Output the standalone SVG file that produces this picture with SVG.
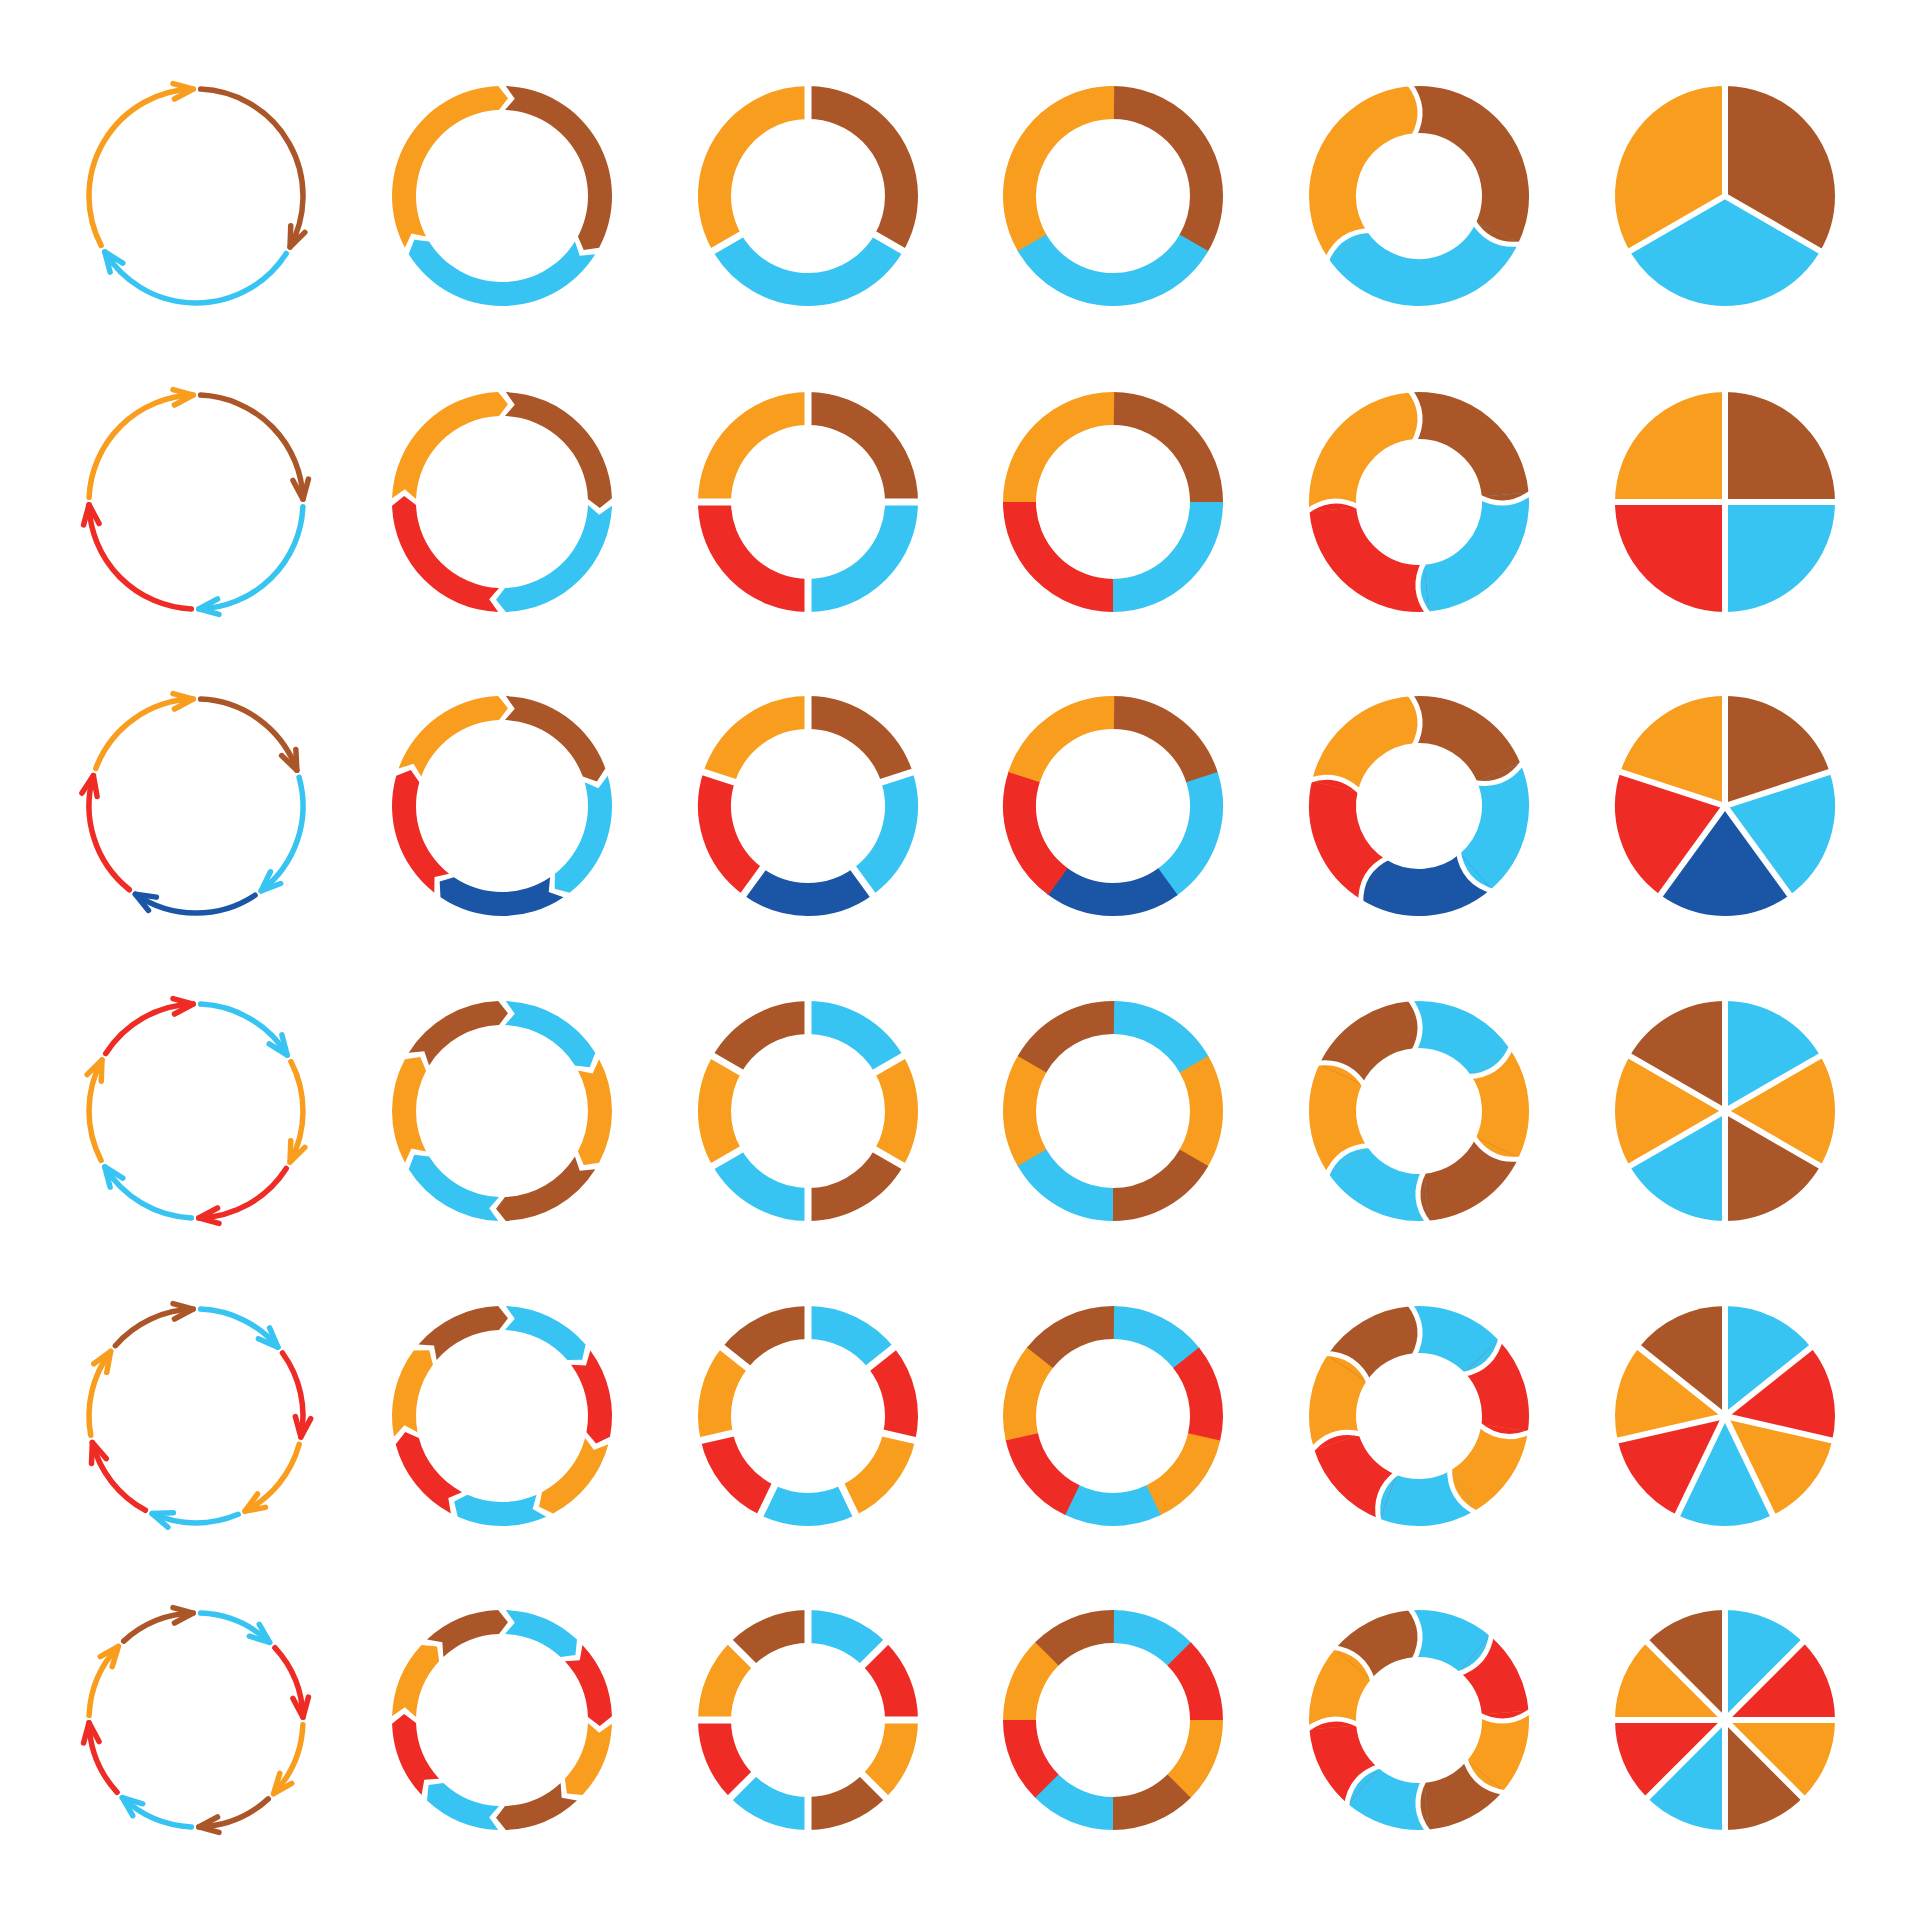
<svg xmlns="http://www.w3.org/2000/svg" xmlns:xlink="http://www.w3.org/1999/xlink" width="1920" height="1920" viewBox="0 0 1920 1920">
<style>
.br{color:#AB5628}.lb{color:#38C4F2}.rd{color:#EE2B24}.or{color:#F89D1D}.db{color:#1B55A5}
.f{fill:currentColor}
.k{fill:none;stroke:currentColor;stroke-width:5.5;stroke-linecap:round;stroke-linejoin:round}
</style>
<defs>
<path id="chev" d="M-20,-113L0,-107L-19,-97.5"/>
<g id="k3"><path d="M4.667,-106.898A107,107 0 0 1 94.033,51.056"/><use href="#chev" transform="rotate(118.5)"/></g>
<g id="k4"><path d="M4.667,-106.898A107,107 0 0 1 106.963,-2.801"/><use href="#chev" transform="rotate(88.5)"/></g>
<g id="k5"><path d="M4.667,-106.898A107,107 0 0 1 100.863,-35.717"/><use href="#chev" transform="rotate(70.5)"/></g>
<g id="k6"><path d="M4.667,-106.898A107,107 0 0 1 91.232,-55.907"/><use href="#chev" transform="rotate(58.5)"/></g>
<g id="k7"><path d="M4.667,-106.898A107,107 0 0 1 81.881,-68.880"/><use href="#chev" transform="rotate(49.9286)"/></g>
<g id="k8"><path d="M4.667,-106.898A107,107 0 0 1 73.654,-77.615"/><use href="#chev" transform="rotate(43.5)"/></g>
<path id="a3" d="M3.839,-109.933A110,110 0 0 1 97.124,51.642L81.721,54.090L75.934,40.375A86,86 0 0 0 3.001,-85.948L12.792,-97.162Z"/>
<path id="a4" d="M3.839,-109.933A110,110 0 0 1 109.933,-3.839L97.817,5.983L85.948,-3.001A86,86 0 0 0 3.001,-85.948L12.792,-97.162Z"/>
<path id="a5" d="M3.839,-109.933A110,110 0 0 1 103.366,-37.622L94.879,-24.537L80.814,-29.414A86,86 0 0 0 3.001,-85.948L12.792,-97.162Z"/>
<path id="a6" d="M3.839,-109.933A110,110 0 0 1 93.285,-58.291L87.704,-43.727L72.932,-45.573A86,86 0 0 0 3.001,-85.948L12.792,-97.162Z"/>
<path id="a7" d="M3.839,-109.933A110,110 0 0 1 83.556,-71.544L80.207,-56.311L65.325,-55.934A86,86 0 0 0 3.001,-85.948L12.792,-97.162Z"/>
<path id="a8" d="M3.839,-109.933A110,110 0 0 1 75.020,-80.449L73.398,-64.937L58.652,-62.896A86,86 0 0 0 3.001,-85.948L12.792,-97.162Z"/>
<circle id="d3" r="93.5" fill="none" stroke="currentColor" stroke-width="33" stroke-dasharray="196.6 700"/>
<circle id="d4" r="93.5" fill="none" stroke="currentColor" stroke-width="33" stroke-dasharray="147.7 700"/>
<circle id="d5" r="93.5" fill="none" stroke="currentColor" stroke-width="33" stroke-dasharray="118.3 700"/>
<circle id="d6" r="93.5" fill="none" stroke="currentColor" stroke-width="33" stroke-dasharray="98.7 700"/>
<circle id="d7" r="93.5" fill="none" stroke="currentColor" stroke-width="33" stroke-dasharray="84.7 700"/>
<circle id="d8" r="93.5" fill="none" stroke="currentColor" stroke-width="33" stroke-dasharray="74.2 700"/>
<circle id="e3" r="86.5" fill="none" stroke="currentColor" stroke-width="47" stroke-dasharray="182 700"/>
<circle id="e4" r="86.5" fill="none" stroke="currentColor" stroke-width="47" stroke-dasharray="136.7 700"/>
<circle id="e5" r="86.5" fill="none" stroke="currentColor" stroke-width="47" stroke-dasharray="109.5 700"/>
<circle id="e6" r="86.5" fill="none" stroke="currentColor" stroke-width="47" stroke-dasharray="91.4 700"/>
<circle id="e7" r="86.5" fill="none" stroke="currentColor" stroke-width="47" stroke-dasharray="78.4 700"/>
<circle id="e8" r="86.5" fill="none" stroke="currentColor" stroke-width="47" stroke-dasharray="68.7 700"/>
<circle id="p3" r="55" fill="none" stroke="currentColor" stroke-width="110" stroke-dasharray="116 700"/>
<circle id="p4" r="55" fill="none" stroke="currentColor" stroke-width="110" stroke-dasharray="87.2 700"/>
<circle id="p5" r="55" fill="none" stroke="currentColor" stroke-width="110" stroke-dasharray="69.9 700"/>
<circle id="p6" r="55" fill="none" stroke="currentColor" stroke-width="110" stroke-dasharray="58.4 700"/>
<circle id="p7" r="55" fill="none" stroke="currentColor" stroke-width="110" stroke-dasharray="50.2 700"/>
<circle id="p8" r="55" fill="none" stroke="currentColor" stroke-width="110" stroke-dasharray="44 700"/>
<line id="g3" x1="0" y1="-72" x2="0" y2="-115" stroke="#fff" stroke-width="7"/>
<line id="g6" x1="0" y1="0" x2="0" y2="-115" stroke="#fff" stroke-width="6"/>
<path id="bz" d="M0,-112Q17,-86.5 0,-61Z" fill="currentColor"/>
<path id="sz" d="M0,-113Q17,-86.5 0,-60" fill="none" stroke="#fff" stroke-width="5"/>
</defs>
<rect width="1920" height="1920" fill="#fff"/>

<!-- Row 1 : 3 segments -->
<g id="r1c1" transform="translate(196,196)">
<use href="#k3" class="k br"/><use href="#k3" class="k lb" transform="rotate(120)"/><use href="#k3" class="k or" transform="rotate(240)"/>
</g>
<g id="r1c2" transform="translate(502,196)">
<use href="#a3" class="f br"/><use href="#a3" class="f lb" transform="rotate(120)"/><use href="#a3" class="f or" transform="rotate(240)"/>
</g>
<g id="r1c3" transform="translate(808,196)">
<use href="#d3" class="br" transform="rotate(-90)"/><use href="#d3" class="lb" transform="rotate(30)"/><use href="#d3" class="or" transform="rotate(150)"/>
<use href="#g3"/><use href="#g3" transform="rotate(120)"/><use href="#g3" transform="rotate(240)"/>
</g>
<g id="r1c4" transform="translate(1113,196)">
<use href="#d3" class="br" transform="rotate(-90)"/><use href="#d3" class="lb" transform="rotate(30)"/><use href="#d3" class="or" transform="rotate(150)"/>
</g>
<g id="r1c5" transform="translate(1419,196)">
<use href="#e3" class="br" transform="rotate(-95)"/><use href="#e3" class="lb" transform="rotate(25)"/><use href="#e3" class="or" transform="rotate(145)"/>
<use href="#bz" class="or" transform="rotate(-5)"/><use href="#bz" class="br" transform="rotate(115)"/><use href="#bz" class="lb" transform="rotate(235)"/>
<use href="#sz" transform="rotate(-5)"/><use href="#sz" transform="rotate(115)"/><use href="#sz" transform="rotate(235)"/>
</g>
<g id="r1c6" transform="translate(1725,196)">
<use href="#p3" class="br" transform="rotate(-90)"/><use href="#p3" class="lb" transform="rotate(30)"/><use href="#p3" class="or" transform="rotate(150)"/>
<use href="#g6"/><use href="#g6" transform="rotate(120)"/><use href="#g6" transform="rotate(240)"/>
</g>

<!-- Row 2 : 4 segments -->
<g id="r2c1" transform="translate(196,502)">
<use href="#k4" class="k br"/><use href="#k4" class="k lb" transform="rotate(90)"/><use href="#k4" class="k rd" transform="rotate(180)"/><use href="#k4" class="k or" transform="rotate(270)"/>
</g>
<g id="r2c2" transform="translate(502,502)">
<use href="#a4" class="f br"/><use href="#a4" class="f lb" transform="rotate(90)"/><use href="#a4" class="f rd" transform="rotate(180)"/><use href="#a4" class="f or" transform="rotate(270)"/>
</g>
<g id="r2c3" transform="translate(808,502)">
<use href="#d4" class="br" transform="rotate(-90)"/><use href="#d4" class="lb" transform="rotate(0)"/><use href="#d4" class="rd" transform="rotate(90)"/><use href="#d4" class="or" transform="rotate(180)"/>
<use href="#g3"/><use href="#g3" transform="rotate(90)"/><use href="#g3" transform="rotate(180)"/><use href="#g3" transform="rotate(270)"/>
</g>
<g id="r2c4" transform="translate(1113,502)">
<use href="#d4" class="br" transform="rotate(-90)"/><use href="#d4" class="lb" transform="rotate(0)"/><use href="#d4" class="rd" transform="rotate(90)"/><use href="#d4" class="or" transform="rotate(180)"/>
</g>
<g id="r2c5" transform="translate(1419,502)">
<use href="#e4" class="br" transform="rotate(-95)"/><use href="#e4" class="lb" transform="rotate(-5)"/><use href="#e4" class="rd" transform="rotate(85)"/><use href="#e4" class="or" transform="rotate(175)"/>
<use href="#bz" class="or" transform="rotate(-5)"/><use href="#bz" class="br" transform="rotate(85)"/><use href="#bz" class="lb" transform="rotate(175)"/><use href="#bz" class="rd" transform="rotate(265)"/>
<use href="#sz" transform="rotate(-5)"/><use href="#sz" transform="rotate(85)"/><use href="#sz" transform="rotate(175)"/><use href="#sz" transform="rotate(265)"/>
</g>
<g id="r2c6" transform="translate(1725,502)">
<use href="#p4" class="br" transform="rotate(-90)"/><use href="#p4" class="lb" transform="rotate(0)"/><use href="#p4" class="rd" transform="rotate(90)"/><use href="#p4" class="or" transform="rotate(180)"/>
<use href="#g6"/><use href="#g6" transform="rotate(90)"/><use href="#g6" transform="rotate(180)"/><use href="#g6" transform="rotate(270)"/>
</g>

<!-- Row 3 : 5 segments -->
<g id="r3c1" transform="translate(196,806)">
<use href="#k5" class="k br"/><use href="#k5" class="k lb" transform="rotate(72)"/><use href="#k5" class="k db" transform="rotate(144)"/><use href="#k5" class="k rd" transform="rotate(216)"/><use href="#k5" class="k or" transform="rotate(288)"/>
</g>
<g id="r3c2" transform="translate(502,806)">
<use href="#a5" class="f br"/><use href="#a5" class="f lb" transform="rotate(72)"/><use href="#a5" class="f db" transform="rotate(144)"/><use href="#a5" class="f rd" transform="rotate(216)"/><use href="#a5" class="f or" transform="rotate(288)"/>
</g>
<g id="r3c3" transform="translate(808,806)">
<use href="#d5" class="br" transform="rotate(-90)"/><use href="#d5" class="lb" transform="rotate(-18)"/><use href="#d5" class="db" transform="rotate(54)"/><use href="#d5" class="rd" transform="rotate(126)"/><use href="#d5" class="or" transform="rotate(198)"/>
<use href="#g3"/><use href="#g3" transform="rotate(72)"/><use href="#g3" transform="rotate(144)"/><use href="#g3" transform="rotate(216)"/><use href="#g3" transform="rotate(288)"/>
</g>
<g id="r3c4" transform="translate(1113,806)">
<use href="#d5" class="br" transform="rotate(-90)"/><use href="#d5" class="lb" transform="rotate(-18)"/><use href="#d5" class="db" transform="rotate(54)"/><use href="#d5" class="rd" transform="rotate(126)"/><use href="#d5" class="or" transform="rotate(198)"/>
</g>
<g id="r3c5" transform="translate(1419,806)">
<use href="#e5" class="br" transform="rotate(-95)"/><use href="#e5" class="lb" transform="rotate(-23)"/><use href="#e5" class="db" transform="rotate(49)"/><use href="#e5" class="rd" transform="rotate(121)"/><use href="#e5" class="or" transform="rotate(193)"/>
<use href="#bz" class="or" transform="rotate(-5)"/><use href="#bz" class="br" transform="rotate(67)"/><use href="#bz" class="lb" transform="rotate(139)"/><use href="#bz" class="db" transform="rotate(211)"/><use href="#bz" class="rd" transform="rotate(283)"/>
<use href="#sz" transform="rotate(-5)"/><use href="#sz" transform="rotate(67)"/><use href="#sz" transform="rotate(139)"/><use href="#sz" transform="rotate(211)"/><use href="#sz" transform="rotate(283)"/>
</g>
<g id="r3c6" transform="translate(1725,806)">
<use href="#p5" class="br" transform="rotate(-90)"/><use href="#p5" class="lb" transform="rotate(-18)"/><use href="#p5" class="db" transform="rotate(54)"/><use href="#p5" class="rd" transform="rotate(126)"/><use href="#p5" class="or" transform="rotate(198)"/>
<use href="#g6"/><use href="#g6" transform="rotate(72)"/><use href="#g6" transform="rotate(144)"/><use href="#g6" transform="rotate(216)"/><use href="#g6" transform="rotate(288)"/>
</g>

<!-- Row 4 : 6 segments -->
<g id="r4c1" transform="translate(196,1111)">
<use href="#k6" class="k lb"/><use href="#k6" class="k or" transform="rotate(60)"/><use href="#k6" class="k rd" transform="rotate(120)"/><use href="#k6" class="k lb" transform="rotate(180)"/><use href="#k6" class="k or" transform="rotate(240)"/><use href="#k6" class="k rd" transform="rotate(300)"/>
</g>
<g id="r4c2" transform="translate(502,1111)">
<use href="#a6" class="f lb"/><use href="#a6" class="f or" transform="rotate(60)"/><use href="#a6" class="f br" transform="rotate(120)"/><use href="#a6" class="f lb" transform="rotate(180)"/><use href="#a6" class="f or" transform="rotate(240)"/><use href="#a6" class="f br" transform="rotate(300)"/>
</g>
<g id="r4c3" transform="translate(808,1111)">
<use href="#d6" class="lb" transform="rotate(-90)"/><use href="#d6" class="or" transform="rotate(-30)"/><use href="#d6" class="br" transform="rotate(30)"/><use href="#d6" class="lb" transform="rotate(90)"/><use href="#d6" class="or" transform="rotate(150)"/><use href="#d6" class="br" transform="rotate(210)"/>
<use href="#g3"/><use href="#g3" transform="rotate(60)"/><use href="#g3" transform="rotate(120)"/><use href="#g3" transform="rotate(180)"/><use href="#g3" transform="rotate(240)"/><use href="#g3" transform="rotate(300)"/>
</g>
<g id="r4c4" transform="translate(1113,1111)">
<use href="#d6" class="lb" transform="rotate(-90)"/><use href="#d6" class="or" transform="rotate(-30)"/><use href="#d6" class="br" transform="rotate(30)"/><use href="#d6" class="lb" transform="rotate(90)"/><use href="#d6" class="or" transform="rotate(150)"/><use href="#d6" class="br" transform="rotate(210)"/>
</g>
<g id="r4c5" transform="translate(1419,1111)">
<use href="#e6" class="lb" transform="rotate(-95)"/><use href="#e6" class="or" transform="rotate(-35)"/><use href="#e6" class="br" transform="rotate(25)"/><use href="#e6" class="lb" transform="rotate(85)"/><use href="#e6" class="or" transform="rotate(145)"/><use href="#e6" class="br" transform="rotate(205)"/>
<use href="#bz" class="br" transform="rotate(-5)"/><use href="#bz" class="lb" transform="rotate(55)"/><use href="#bz" class="or" transform="rotate(115)"/><use href="#bz" class="br" transform="rotate(175)"/><use href="#bz" class="lb" transform="rotate(235)"/><use href="#bz" class="or" transform="rotate(295)"/>
<use href="#sz" transform="rotate(-5)"/><use href="#sz" transform="rotate(55)"/><use href="#sz" transform="rotate(115)"/><use href="#sz" transform="rotate(175)"/><use href="#sz" transform="rotate(235)"/><use href="#sz" transform="rotate(295)"/>
</g>
<g id="r4c6" transform="translate(1725,1111)">
<use href="#p6" class="lb" transform="rotate(-90)"/><use href="#p6" class="or" transform="rotate(-30)"/><use href="#p6" class="br" transform="rotate(30)"/><use href="#p6" class="lb" transform="rotate(90)"/><use href="#p6" class="or" transform="rotate(150)"/><use href="#p6" class="br" transform="rotate(210)"/>
<use href="#g6"/><use href="#g6" transform="rotate(60)"/><use href="#g6" transform="rotate(120)"/><use href="#g6" transform="rotate(180)"/><use href="#g6" transform="rotate(240)"/><use href="#g6" transform="rotate(300)"/>
</g>

<!-- Row 5 : 7 segments -->
<g id="r5c1" transform="translate(196,1416)">
<use href="#k7" class="k lb"/><use href="#k7" class="k rd" transform="rotate(51.4286)"/><use href="#k7" class="k or" transform="rotate(102.8571)"/><use href="#k7" class="k lb" transform="rotate(154.2857)"/><use href="#k7" class="k rd" transform="rotate(205.7143)"/><use href="#k7" class="k or" transform="rotate(257.1429)"/><use href="#k7" class="k br" transform="rotate(308.5714)"/>
</g>
<g id="r5c2" transform="translate(502,1416)">
<use href="#a7" class="f lb"/><use href="#a7" class="f rd" transform="rotate(51.4286)"/><use href="#a7" class="f or" transform="rotate(102.8571)"/><use href="#a7" class="f lb" transform="rotate(154.2857)"/><use href="#a7" class="f rd" transform="rotate(205.7143)"/><use href="#a7" class="f or" transform="rotate(257.1429)"/><use href="#a7" class="f br" transform="rotate(308.5714)"/>
</g>
<g id="r5c3" transform="translate(808,1416)">
<use href="#d7" class="lb" transform="rotate(-90)"/><use href="#d7" class="rd" transform="rotate(-38.5714)"/><use href="#d7" class="or" transform="rotate(12.8571)"/><use href="#d7" class="lb" transform="rotate(64.2857)"/><use href="#d7" class="rd" transform="rotate(115.7143)"/><use href="#d7" class="or" transform="rotate(167.1429)"/><use href="#d7" class="br" transform="rotate(218.5714)"/>
<use href="#g3"/><use href="#g3" transform="rotate(51.4286)"/><use href="#g3" transform="rotate(102.8571)"/><use href="#g3" transform="rotate(154.2857)"/><use href="#g3" transform="rotate(205.7143)"/><use href="#g3" transform="rotate(257.1429)"/><use href="#g3" transform="rotate(308.5714)"/>
</g>
<g id="r5c4" transform="translate(1113,1416)">
<use href="#d7" class="lb" transform="rotate(-90)"/><use href="#d7" class="rd" transform="rotate(-38.5714)"/><use href="#d7" class="or" transform="rotate(12.8571)"/><use href="#d7" class="lb" transform="rotate(64.2857)"/><use href="#d7" class="rd" transform="rotate(115.7143)"/><use href="#d7" class="or" transform="rotate(167.1429)"/><use href="#d7" class="br" transform="rotate(218.5714)"/>
</g>
<g id="r5c5" transform="translate(1419,1416)">
<use href="#e7" class="lb" transform="rotate(-95)"/><use href="#e7" class="rd" transform="rotate(-43.5714)"/><use href="#e7" class="or" transform="rotate(7.8571)"/><use href="#e7" class="lb" transform="rotate(59.2857)"/><use href="#e7" class="rd" transform="rotate(110.7143)"/><use href="#e7" class="or" transform="rotate(162.1429)"/><use href="#e7" class="br" transform="rotate(213.5714)"/>
<use href="#bz" class="br" transform="rotate(-5)"/><use href="#bz" class="lb" transform="rotate(46.4286)"/><use href="#bz" class="rd" transform="rotate(97.8571)"/><use href="#bz" class="or" transform="rotate(149.2857)"/><use href="#bz" class="lb" transform="rotate(200.7143)"/><use href="#bz" class="rd" transform="rotate(252.1429)"/><use href="#bz" class="or" transform="rotate(303.5714)"/>
<use href="#sz" transform="rotate(-5)"/><use href="#sz" transform="rotate(46.4286)"/><use href="#sz" transform="rotate(97.8571)"/><use href="#sz" transform="rotate(149.2857)"/><use href="#sz" transform="rotate(200.7143)"/><use href="#sz" transform="rotate(252.1429)"/><use href="#sz" transform="rotate(303.5714)"/>
</g>
<g id="r5c6" transform="translate(1725,1416)">
<use href="#p7" class="lb" transform="rotate(-90)"/><use href="#p7" class="rd" transform="rotate(-38.5714)"/><use href="#p7" class="or" transform="rotate(12.8571)"/><use href="#p7" class="lb" transform="rotate(64.2857)"/><use href="#p7" class="rd" transform="rotate(115.7143)"/><use href="#p7" class="or" transform="rotate(167.1429)"/><use href="#p7" class="br" transform="rotate(218.5714)"/>
<use href="#g6"/><use href="#g6" transform="rotate(51.4286)"/><use href="#g6" transform="rotate(102.8571)"/><use href="#g6" transform="rotate(154.2857)"/><use href="#g6" transform="rotate(205.7143)"/><use href="#g6" transform="rotate(257.1429)"/><use href="#g6" transform="rotate(308.5714)"/>
</g>

<!-- Row 6 : 8 segments -->
<g id="r6c1" transform="translate(196,1720)">
<use href="#k8" class="k lb"/><use href="#k8" class="k rd" transform="rotate(45)"/><use href="#k8" class="k or" transform="rotate(90)"/><use href="#k8" class="k br" transform="rotate(135)"/><use href="#k8" class="k lb" transform="rotate(180)"/><use href="#k8" class="k rd" transform="rotate(225)"/><use href="#k8" class="k or" transform="rotate(270)"/><use href="#k8" class="k br" transform="rotate(315)"/>
</g>
<g id="r6c2" transform="translate(502,1720)">
<use href="#a8" class="f lb"/><use href="#a8" class="f rd" transform="rotate(45)"/><use href="#a8" class="f or" transform="rotate(90)"/><use href="#a8" class="f br" transform="rotate(135)"/><use href="#a8" class="f lb" transform="rotate(180)"/><use href="#a8" class="f rd" transform="rotate(225)"/><use href="#a8" class="f or" transform="rotate(270)"/><use href="#a8" class="f br" transform="rotate(315)"/>
</g>
<g id="r6c3" transform="translate(808,1720)">
<use href="#d8" class="lb" transform="rotate(-90)"/><use href="#d8" class="rd" transform="rotate(-45)"/><use href="#d8" class="or" transform="rotate(0)"/><use href="#d8" class="br" transform="rotate(45)"/><use href="#d8" class="lb" transform="rotate(90)"/><use href="#d8" class="rd" transform="rotate(135)"/><use href="#d8" class="or" transform="rotate(180)"/><use href="#d8" class="br" transform="rotate(225)"/>
<use href="#g3"/><use href="#g3" transform="rotate(45)"/><use href="#g3" transform="rotate(90)"/><use href="#g3" transform="rotate(135)"/><use href="#g3" transform="rotate(180)"/><use href="#g3" transform="rotate(225)"/><use href="#g3" transform="rotate(270)"/><use href="#g3" transform="rotate(315)"/>
</g>
<g id="r6c4" transform="translate(1113,1720)">
<use href="#d8" class="lb" transform="rotate(-90)"/><use href="#d8" class="rd" transform="rotate(-45)"/><use href="#d8" class="or" transform="rotate(0)"/><use href="#d8" class="br" transform="rotate(45)"/><use href="#d8" class="lb" transform="rotate(90)"/><use href="#d8" class="rd" transform="rotate(135)"/><use href="#d8" class="or" transform="rotate(180)"/><use href="#d8" class="br" transform="rotate(225)"/>
</g>
<g id="r6c5" transform="translate(1419,1720)">
<use href="#e8" class="lb" transform="rotate(-95)"/><use href="#e8" class="rd" transform="rotate(-50)"/><use href="#e8" class="or" transform="rotate(-5)"/><use href="#e8" class="br" transform="rotate(40)"/><use href="#e8" class="lb" transform="rotate(85)"/><use href="#e8" class="rd" transform="rotate(130)"/><use href="#e8" class="or" transform="rotate(175)"/><use href="#e8" class="br" transform="rotate(220)"/>
<use href="#bz" class="br" transform="rotate(-5)"/><use href="#bz" class="lb" transform="rotate(40)"/><use href="#bz" class="rd" transform="rotate(85)"/><use href="#bz" class="or" transform="rotate(130)"/><use href="#bz" class="br" transform="rotate(175)"/><use href="#bz" class="lb" transform="rotate(220)"/><use href="#bz" class="rd" transform="rotate(265)"/><use href="#bz" class="or" transform="rotate(310)"/>
<use href="#sz" transform="rotate(-5)"/><use href="#sz" transform="rotate(40)"/><use href="#sz" transform="rotate(85)"/><use href="#sz" transform="rotate(130)"/><use href="#sz" transform="rotate(175)"/><use href="#sz" transform="rotate(220)"/><use href="#sz" transform="rotate(265)"/><use href="#sz" transform="rotate(310)"/>
</g>
<g id="r6c6" transform="translate(1725,1720)">
<use href="#p8" class="lb" transform="rotate(-90)"/><use href="#p8" class="rd" transform="rotate(-45)"/><use href="#p8" class="or" transform="rotate(0)"/><use href="#p8" class="br" transform="rotate(45)"/><use href="#p8" class="lb" transform="rotate(90)"/><use href="#p8" class="rd" transform="rotate(135)"/><use href="#p8" class="or" transform="rotate(180)"/><use href="#p8" class="br" transform="rotate(225)"/>
<use href="#g6"/><use href="#g6" transform="rotate(45)"/><use href="#g6" transform="rotate(90)"/><use href="#g6" transform="rotate(135)"/><use href="#g6" transform="rotate(180)"/><use href="#g6" transform="rotate(225)"/><use href="#g6" transform="rotate(270)"/><use href="#g6" transform="rotate(315)"/>
</g>
</svg>
